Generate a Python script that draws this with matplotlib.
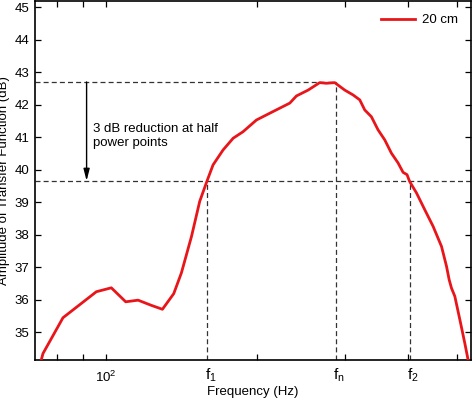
import matplotlib
matplotlib.use("Agg")
import matplotlib.pyplot as plt
import matplotlib.transforms as mtransforms

plt.rcParams['font.family'] = ['Liberation Sans', 'DejaVu Sans']
plt.rcParams['mathtext.fontset'] = 'custom'
plt.rcParams['mathtext.rm'] = 'Liberation Sans'
plt.rcParams['mathtext.it'] = 'Liberation Sans'

# Data
freq = [74.4, 75.0, 82.2, 95.8, 102.6, 109.6, 116.0, 123.3, 129.7, 136.6, 141.5, 148.2,
        153.9, 159.0, 163.6, 171.3, 179.4, 187.7, 199.6, 215.4, 232.6, 239.8, 253.0,
        266.8, 275.1, 285.8, 299.3, 311.0, 320.6, 328.0, 338.2, 348.6, 359.5, 370.7,
        382.2, 391.1, 398.2, 403.0, 415.8, 432.0, 448.8, 466.5, 477.3, 483.1, 488.3,
        495.8, 507.4, 519.0, 527.0]
amp = [34.15, 34.35, 35.45, 36.25, 36.37, 35.94, 35.99, 35.83, 35.71, 36.19, 36.83, 37.95,
       39.03, 39.64, 40.15, 40.61, 40.97, 41.17, 41.53, 41.79, 42.05, 42.27, 42.45,
       42.68, 42.66, 42.68, 42.45, 42.30, 42.15, 41.84, 41.63, 41.23, 40.92, 40.51,
       40.21, 39.92, 39.85, 39.64, 39.29, 38.77, 38.26, 37.64, 37.03, 36.62, 36.36,
       36.11, 35.39, 34.67, 34.15]
series_label = "20 cm"
peak_db = 42.70
half_db = 39.66
f1, fn, f2 = 159.0, 287.0, 403.0
f_labels = [r'$\mathregular{f_1}$', r'$\mathregular{f_n}$', r'$\mathregular{f_2}$']
xtick_vals = [80, 90, 100, 200, 300, 400, 500]
yticks = [35, 36, 37, 38, 39, 40, 41, 42, 43, 44, 45]
arrow_f = 91.6
annot_text = "3 dB reduction at half\npower points"

fig = plt.figure(figsize=(4.74, 3.99), dpi=100)
ax = fig.add_axes([35/474, 1 - 360/399, (471-35)/474, (360-1)/399])

ax.set_xscale('log')
ax.set_xlim(72.3, 534)
ax.set_ylim(34.15, 45.19)

ax.plot(freq, amp, color='#e8161b', lw=2.0, label=series_label, zorder=3)

dash = dict(color='#333333', lw=0.9, linestyle=(0, (4, 2.5)), zorder=2)
ax.plot([72.3, fn], [peak_db, peak_db], **dash)
ax.plot([72.3, 534], [half_db, half_db], **dash)
ax.plot([f1, f1], [34.15, half_db], **dash)
ax.plot([fn, fn], [34.15, peak_db], **dash)
ax.plot([f2, f2], [34.15, half_db], **dash)

ax.annotate('', xy=(arrow_f, half_db), xytext=(arrow_f, peak_db),
            arrowprops=dict(arrowstyle='-|>,head_length=0.7,head_width=0.18',
                            color='black', lw=1.0, shrinkA=0, shrinkB=0))
ax.text(94.2, 41.04, annot_text, fontsize=9.5, va='center', ha='left',
        linespacing=1.3)

ax.set_xticks(xtick_vals)
ax.set_xticklabels(['', '', r'$\mathregular{10^{2}}$', '', '', '', ''])
ax.xaxis.set_minor_locator(matplotlib.ticker.NullLocator())
ax.set_yticks(yticks)

trans = mtransforms.blended_transform_factory(ax.transData, ax.transAxes)
for fv, lab in zip([f1, fn, f2], f_labels):
    ax.text(fv * 0.99, -0.018, lab, transform=trans, ha='left', va='top', fontsize=11)

ax.tick_params(axis='both', direction='in', top=True, right=True, length=4,
               width=0.9, labelsize=9.5, pad=4)
ax.tick_params(axis='x', pad=7)
for s in ax.spines.values():
    s.set_linewidth(1.2)

fig.text(253/474, 1 - 392/399, 'Frequency (Hz)', fontsize=9.5, ha='center', va='center')
ax.set_ylabel('Amplitude of Transfer Function (dB)', fontsize=9.5, labelpad=3)

ax.legend(loc='upper right', frameon=False, fontsize=9.5, handlelength=2.6,
          borderaxespad=0.6, handletextpad=0.5)

fig.savefig('out.png', dpi=100)
